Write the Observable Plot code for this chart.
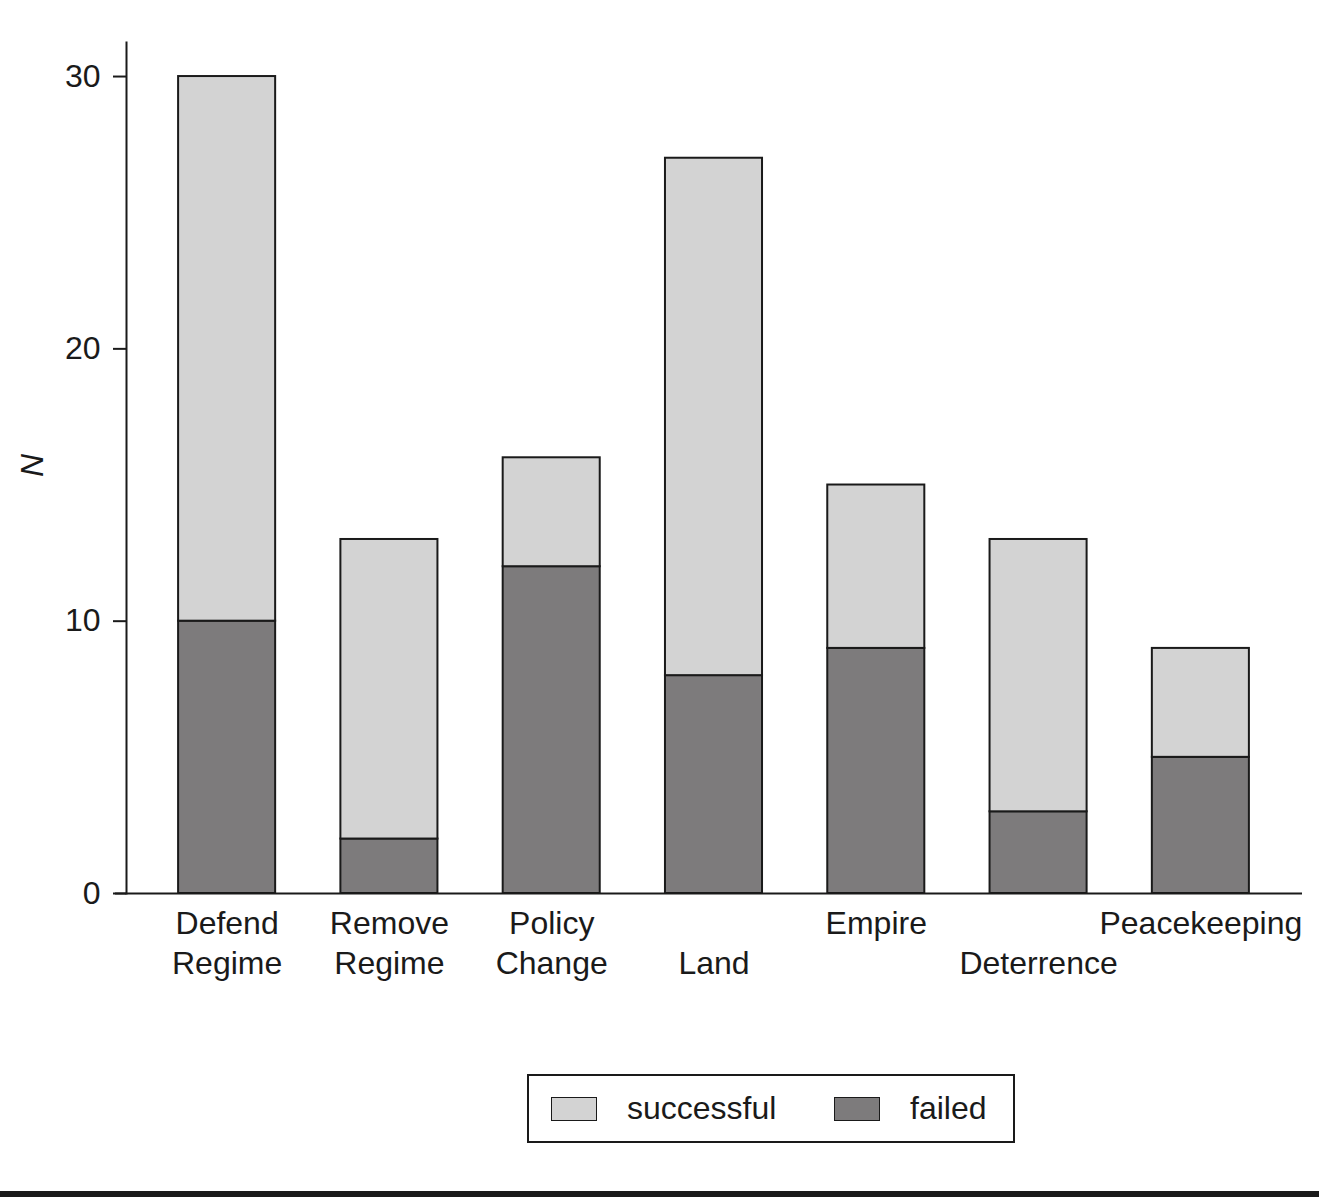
<!DOCTYPE html>
<html>
<head>
<meta charset="utf-8">
<script src="https://cdn.jsdelivr.net/npm/d3@7"></script>
<script src="https://cdn.jsdelivr.net/npm/@observablehq/plot@0.6"></script>
<style>
  body { margin: 0; background: #fff; }
  #wrap { position: relative; width: 1319px; height: 1197px; font-family: "Liberation Sans", Arial, Helvetica, sans-serif; color: #1a1a1a; }
  #legend { position: absolute; left: 527px; top: 1074px; width: 484px; height: 65px; border: 2px solid #1a1a1a; box-sizing: content-box; }
  .item { position: absolute; top: 0; height: 65px; display: flex; align-items: center; font-size: 32px; }
  .sw { width: 44px; height: 22px; border: 1.5px solid #1a1a1a; margin-right: 30px; }
  #rule { position: absolute; left: 0; top: 1191px; width: 1319px; height: 6px; background: #1a1a1a; }
</style>
</head>
<body>
<div id="wrap"></div>
<script>
const categories = ["Defend Regime", "Remove Regime", "Policy Change", "Land", "Empire", "Deterrence", "Peacekeeping"];
const tickLabels = ["Defend\nRegime", "Remove\nRegime", "Policy\nChange", "\nLand", "Empire", "\nDeterrence", "Peacekeeping"];
const failed = [10, 2, 12, 8, 9, 3, 5];
const successful = [20, 11, 4, 19, 6, 10, 4];
const seriesNames = ["successful", "failed"];
const seriesColors = ["#d3d3d3", "#7d7b7c"];
const yTicks = [0, 10, 20, 30];

const rows = [];
categories.forEach((c, i) => {
  rows.push({category: c, status: "failed", n: failed[i]});
  rows.push({category: c, status: "successful", n: successful[i]});
});

const ink = "#1a1a1a";
const font = "'Liberation Sans', Arial, Helvetica, sans-serif";

const chart = Plot.plot({
  width: 1319,
  height: 1000,
  marginLeft: 115,
  marginRight: 17,
  marginTop: 42,
  marginBottom: 107,
  style: {fontFamily: font, fontSize: "32px", color: ink, background: "white"},
  x: {domain: categories, paddingInner: 0.402, paddingOuter: 0.358, align: 0.543, round: false},
  y: {domain: [0, 31.25]},
  color: {domain: seriesNames, range: seriesColors},
  marks: [
    Plot.barY(rows, Plot.stackY({order: null}, {x: "category", y: "n", fill: "status", stroke: ink, strokeWidth: 2})),
    Plot.ruleY([0], {stroke: ink, strokeWidth: 2}),
    Plot.frame({anchor: "left", dx: 11, stroke: ink, strokeWidth: 2}),
    Plot.axisY({ticks: yTicks, tickSize: 13, tickPadding: 13, dx: 11, label: null, fontSize: 32, strokeWidth: 2, stroke: ink, fill: ink}),
    Plot.axisX({tickSize: 0, tickPadding: 12, label: null, fontSize: 32, lineHeight: 1.25, fill: ink,
      tickFormat: d => tickLabels[categories.indexOf(d)]}),
    Plot.text(["N"], {frameAnchor: "left", dx: -83, dy: 9, rotate: -90, fontStyle: "italic", fontSize: 32, fill: ink})
  ]
});

const wrap = document.getElementById("wrap");
wrap.appendChild(chart);

const legend = document.createElement("div");
legend.id = "legend";
const lefts = [22, 305];
seriesNames.forEach((s, i) => {
  const item = document.createElement("div");
  item.className = "item";
  item.style.left = lefts[i] + "px";
  const sw = document.createElement("div");
  sw.className = "sw";
  sw.style.background = seriesColors[i];
  item.appendChild(sw);
  const t = document.createElement("span");
  t.textContent = s;
  item.appendChild(t);
  legend.appendChild(item);
});
wrap.appendChild(legend);

const rule = document.createElement("div");
rule.id = "rule";
wrap.appendChild(rule);
</script>
</body>
</html>
